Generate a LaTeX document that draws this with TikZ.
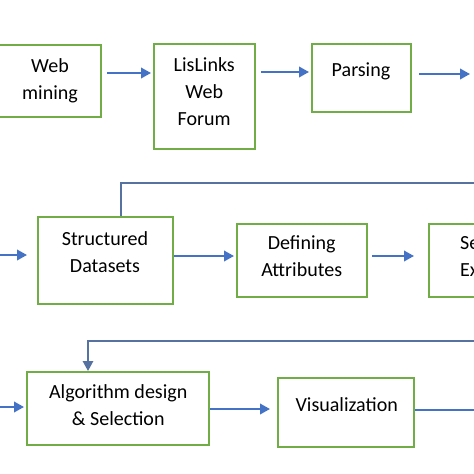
\documentclass[tikz,border=0pt]{standalone}
\usepackage{fontspec}
\setmainfont{Carlito}
\usepackage{xcolor}
\usepackage{tikz}
\usetikzlibrary{arrows.meta}
\definecolor{boxGreen}{HTML}{70AD47}
\definecolor{arrBlue}{HTML}{4472C4}
\definecolor{fbBlue}{HTML}{5672A0}
\tikzset{box/.style={
    rectangle, draw=boxGreen, line width=0.08cm, fill=white, inner sep=0pt,
    #1
  },
  txt/.style={
    align=center, inner sep=0pt, font=\fontsize{22.8}{30.7}\selectfont
  },
  arr/.style={
    -{Triangle[length=0.4cm,width=0.42cm]}, arrBlue, line width=0.08cm
  },
  fb/.style={
    fbBlue, line width=0.05cm
  }
}
\begin{document}
\begin{tikzpicture}
      \useasboundingbox (0,0) rectangle (18.96,-18.96);
      \clip (0,0) rectangle (18.96,-18.96);
      \node[box={minimum width=4.12cm,minimum height=2.88cm}] (web) at (1.98,-3.24) {};
      \node[box={minimum width=4.04cm,minimum height=4.2cm}] (lis) at (8.18,-3.86) {};
      \node[box={minimum width=3.96cm,minimum height=2.72cm}] (parse) at (14.46,-3.12) {};
      \node[box={minimum width=5.4cm,minimum height=3.48cm}] (struct) at (4.22,-10.42) {};
      \node[box={minimum width=5.2cm,minimum height=2.92cm}] (attr) at (12.08,-10.42) {};
      \node[box={minimum width=5.2cm,minimum height=2.92cm}] (ext) at (19.76,-10.42) {};
      \node[box={minimum width=7.28cm,minimum height=2.92cm}] (algo) at (4.72,-16.34) {};
      \node[box={minimum width=5.44cm,minimum height=2.76cm}] (vis) at (13.84,-16.5) {};
      \node[txt] (webtxt) at (2.0,-3.25) {Web\\mining};
      \node[txt] (listxt) at (8.17,-3.66) {LisLinks\\Web\\Forum};
      \node[txt] (parsetxt) at (14.44,-2.86) {Parsing};
      \node[txt] (structtxt) at (4.2,-10.07) {Structured\\Datasets};
      \node[txt] (attrtxt) at (12.07,-10.25) {Defining\\Attributes};
      \node[txt,align=left,anchor=west] (exttxt) at (18.4,-10.25) {Se\\Ex};
      \node[txt] (algotxt) at (4.73,-16.19) {Algorithm design\\\& Selection};
      \node[txt] (vistxt) at (13.87,-16.17) {Visualization};
      \coordinate (in2) at (-1,-10.2);
      \coordinate (in3) at (-1,-16.28);
      \coordinate (out1) at (18.8,-2.96);
      \coordinate (out3) at (20,-16.4);
      \coordinate (fb1) at (20,-7.32);
      \coordinate (fb2) at (20,-13.64);
      \draw[arr,shorten <=0.2cm,shorten >=0.08cm] (web.east |- 0,-2.92) -- (lis.west |- 0,-2.92);
      \draw[arr,shorten <=0.2cm,shorten >=0.08cm] (lis.east |- 0,-2.88) -- (parse.west |- 0,-2.88);
      \draw[arr,shorten <=0.28cm] (parse.east |- out1) -- (out1);
      \draw[arr,shorten >=0.4cm] (in2) -- (struct.west |- in2);
      \draw[arr,shorten >=0.08cm] (struct.east |- 0,-10.24) -- (attr.west |- 0,-10.24);
      \draw[arr,shorten <=0.16cm,shorten >=0.56cm] (attr.east |- 0,-10.24) -- (ext.west |- 0,-10.24);
      \draw[arr,shorten >=0.08cm] (in3) -- (algo.west |- in3);
      \draw[arr,shorten >=0.28cm] (algo.east |- 0,-16.36) -- (vis.west |- 0,-16.36);
      \draw[arr,-] (vis.east |- out3) -- (out3);
      \draw[fb] (4.84,0 |- struct.north) |- (fb1);
      \draw[fb,line width=0.06cm,-{Triangle[length=0.4cm,width=0.42cm]}] (fb2) -| (3.52,0 |- algo.north);
\end{tikzpicture}
\end{document}
